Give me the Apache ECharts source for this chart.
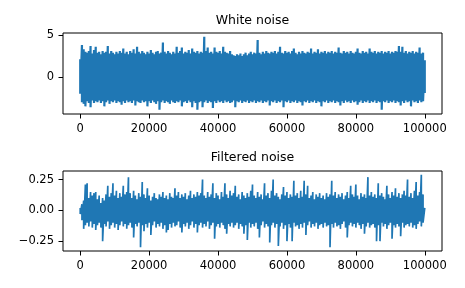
<!DOCTYPE html>
<html>
<head>
<meta charset="utf-8">
<script src="https://cdn.jsdelivr.net/npm/echarts@6/dist/echarts.min.js"></script>
<style>html,body{margin:0;padding:0;background:#fff}#c{width:465px;height:288px}</style>
</head>
<body>
<div id="c"></div>
<script>
// Sample spacing along x (samples 0..100000, read every 500)
const sampleStep = 500;
// White noise: upper / lower envelope
const whiteHi = [
2.1,3.8,3.3,3.0,2.9,3.1,3.7,2.8,3.2,3.6,
2.9,3.0,2.7,3.1,2.9,3.0,3.7,2.8,3.1,2.9,
2.7,3.0,2.8,3.1,2.9,3.4,2.8,3.0,2.7,3.1,
2.9,3.3,2.8,3.6,3.0,2.8,3.1,2.9,2.7,3.0,
2.8,3.2,2.9,2.7,3.0,3.1,2.8,2.9,4.1,3.0,
2.8,3.1,2.9,2.7,3.0,2.8,3.6,2.9,3.1,3.5,
2.8,3.0,2.9,3.2,2.8,3.4,3.0,2.9,3.1,2.8,
3.0,2.9,4.8,3.1,3.5,2.9,3.0,2.8,3.5,3.0,
2.9,3.1,2.8,3.6,3.0,2.9,2.8,3.1,2.7,2.6,
2.5,2.7,2.6,2.8,2.5,2.7,2.9,2.6,2.8,3.0,
2.7,2.9,2.8,4.4,2.9,2.7,3.0,2.8,3.1,2.9,
2.8,3.0,2.9,3.1,2.8,3.0,3.6,2.9,2.8,3.1,
2.9,3.0,2.8,3.1,3.4,2.9,2.7,3.0,2.8,3.1,
2.9,2.8,3.0,2.9,3.4,2.8,3.0,2.9,3.3,2.8,
3.0,2.9,3.1,2.8,3.0,2.9,3.1,2.8,3.0,2.9,
3.5,2.9,2.8,3.1,2.9,3.0,2.8,3.1,2.9,2.8,
3.0,3.4,2.9,2.8,3.1,2.9,3.0,2.8,3.4,3.0,
2.9,3.1,2.8,3.0,2.9,3.1,2.8,3.0,2.9,3.1,
2.8,3.0,2.9,3.1,3.0,3.7,3.0,3.6,2.9,3.1,
2.8,3.0,2.9,3.1,2.8,3.0,2.9,3.5,2.8,2.9,
2.0];
const whiteLo = [
-2.0,-3.0,-3.2,-3.5,-2.9,-3.1,-3.6,-2.8,-3.1,-2.9,
-3.0,-2.8,-3.1,-2.9,-3.5,-3.0,-2.8,-3.2,-2.9,-3.0,
-2.8,-3.1,-2.9,-3.0,-3.3,-2.9,-3.1,-2.8,-3.0,-2.9,
-3.1,-2.8,-3.4,-2.9,-3.0,-3.1,-2.8,-3.0,-2.9,-3.5,
-2.9,-3.1,-2.8,-3.0,-3.2,-2.9,-3.9,-3.0,-2.8,-3.1,
-2.9,-3.0,-3.2,-2.8,-3.0,-3.1,-2.9,-3.0,-2.8,-3.5,
-3.0,-2.9,-3.1,-2.8,-3.0,-3.6,-2.9,-3.1,-3.9,-3.0,
-2.9,-3.6,-3.0,-2.8,-3.1,-2.9,-3.0,-3.7,-2.9,-3.1,
-2.8,-3.0,-2.9,-3.1,-2.8,-3.0,-2.9,-3.1,-3.0,-2.8,
-3.6,-2.9,-3.0,-2.8,-3.1,-2.9,-3.0,-2.8,-3.1,-2.9,
-3.0,-2.8,-3.1,-2.9,-3.0,-2.8,-3.1,-2.9,-3.0,-2.8,
-3.4,-2.9,-3.0,-2.8,-3.1,-2.9,-3.0,-2.8,-3.6,-2.9,
-3.0,-2.8,-3.1,-2.9,-3.0,-2.8,-3.1,-2.9,-3.0,-3.4,
-2.9,-3.0,-2.8,-3.1,-2.9,-3.0,-2.8,-3.1,-2.9,-3.0,
-3.5,-2.9,-3.0,-2.8,-3.1,-2.9,-3.0,-2.8,-3.1,-2.9,
-3.0,-3.4,-2.9,-3.1,-2.8,-3.0,-2.9,-3.1,-2.8,-3.0,
-2.9,-3.3,-3.0,-2.8,-3.1,-2.9,-3.0,-2.8,-3.1,-2.9,
-3.0,-2.8,-3.1,-2.9,-3.0,-3.9,-2.9,-3.0,-2.8,-3.1,
-2.9,-3.0,-2.8,-3.1,-2.9,-3.0,-3.4,-2.9,-3.1,-2.8,
-3.0,-2.9,-3.5,-2.8,-3.0,-2.9,-3.1,-2.8,-3.0,-2.9,
-1.9];
// Filtered noise: upper / lower swings
const filtHi = [
0.02,0.05,0.08,0.21,0.22,0.10,0.15,0.12,0.14,0.15,
0.09,0.12,0.06,0.10,0.08,0.13,0.20,0.11,0.14,0.22,
0.12,0.16,0.10,0.14,0.11,0.20,0.13,0.15,0.27,0.14,
0.10,0.16,0.12,0.09,0.14,0.11,0.23,0.13,0.10,0.18,
0.12,0.08,0.11,0.14,0.10,0.09,0.13,0.11,0.15,0.10,
0.12,0.09,0.14,0.11,0.10,0.18,0.12,0.15,0.10,0.13,
0.11,0.14,0.09,0.12,0.16,0.10,0.13,0.11,0.15,0.12,
0.14,0.25,0.12,0.10,0.15,0.11,0.13,0.22,0.10,0.14,
0.12,0.09,0.15,0.11,0.22,0.13,0.10,0.16,0.12,0.14,
0.20,0.11,0.13,0.09,0.15,0.12,0.10,0.14,0.11,0.16,
0.21,0.12,0.10,0.15,0.11,0.13,0.09,0.22,0.12,0.14,
0.10,0.16,0.25,0.12,0.14,0.11,0.09,0.13,0.19,0.12,
0.15,0.10,0.13,0.11,0.24,0.12,0.14,0.10,0.16,0.11,
0.24,0.13,0.20,0.10,0.12,0.15,0.09,0.13,0.11,0.14,
0.10,0.12,0.09,0.14,0.11,0.13,0.24,0.12,0.15,0.10,
0.13,0.11,0.14,0.09,0.12,0.15,0.10,0.20,0.13,0.11,
0.21,0.12,0.09,0.14,0.11,0.13,0.10,0.27,0.12,0.15,
0.11,0.13,0.10,0.22,0.12,0.14,0.11,0.09,0.20,0.13,
0.10,0.15,0.12,0.18,0.11,0.14,0.10,0.13,0.16,0.12,
0.25,0.11,0.14,0.10,0.16,0.23,0.12,0.15,0.29,0.13,
0.02];
const filtLo = [
-0.03,-0.08,-0.15,-0.12,-0.10,-0.13,-0.09,-0.14,-0.11,-0.16,
-0.12,-0.10,-0.14,-0.25,-0.11,-0.13,-0.09,-0.15,-0.12,-0.10,
-0.14,-0.11,-0.16,-0.12,-0.09,-0.13,-0.11,-0.15,-0.12,-0.10,
-0.14,-0.22,-0.11,-0.13,-0.10,-0.30,-0.12,-0.17,-0.11,-0.14,
-0.10,-0.20,-0.12,-0.09,-0.14,-0.11,-0.13,-0.10,-0.15,-0.12,
-0.18,-0.16,-0.11,-0.14,-0.10,-0.13,-0.12,-0.09,-0.14,-0.18,
-0.11,-0.13,-0.10,-0.15,-0.12,-0.09,-0.14,-0.11,-0.18,-0.12,
-0.10,-0.14,-0.11,-0.13,-0.09,-0.15,-0.12,-0.10,-0.23,-0.13,
-0.11,-0.14,-0.10,-0.12,-0.15,-0.19,-0.11,-0.13,-0.10,-0.14,
-0.12,-0.10,-0.15,-0.11,-0.13,-0.19,-0.12,-0.24,-0.10,-0.14,
-0.11,-0.13,-0.10,-0.15,-0.22,-0.12,-0.09,-0.14,-0.11,-0.13,
-0.26,-0.12,-0.10,-0.14,-0.11,-0.29,-0.13,-0.10,-0.15,-0.12,
-0.25,-0.11,-0.14,-0.25,-0.10,-0.13,-0.12,-0.15,-0.11,-0.14,
-0.10,-0.20,-0.12,-0.09,-0.14,-0.11,-0.13,-0.10,-0.15,-0.12,
-0.11,-0.14,-0.10,-0.13,-0.12,-0.30,-0.11,-0.14,-0.10,-0.13,
-0.12,-0.15,-0.11,-0.09,-0.14,-0.22,-0.12,-0.10,-0.13,-0.11,
-0.14,-0.10,-0.12,-0.15,-0.11,-0.19,-0.13,-0.10,-0.14,-0.12,
-0.11,-0.14,-0.25,-0.12,-0.25,-0.10,-0.13,-0.11,-0.15,-0.12,
-0.10,-0.23,-0.12,-0.14,-0.11,-0.13,-0.21,-0.10,-0.14,-0.12,
-0.11,-0.13,-0.10,-0.14,-0.12,-0.15,-0.11,-0.09,-0.13,-0.10,
0.02];
// Tick labels
const xTicks = [0, 20000, 40000, 60000, 80000, 100000];
const yTicksWhite = [0, 5];
const yTicksFilt = [-0.25, 0, 0.25];
const titles = ['White noise', 'Filtered noise'];

function zigzag(hi, lo) {
  const out = [];
  for (let i = 0; i < hi.length; i++) {
    const x = i * sampleStep;
    out.push([x, hi[i]]);
    out.push([x, lo[i]]);
  }
  return out;
}

const FONT = 'DejaVu Sans';
const fmtMinus = s => s.replace('-', '\u2212');
function xAxisCfg(gi) {
  return {
    type: 'value', gridIndex: gi, min: -5000, max: 105000,
    axisLine: { show: false, onZero: false },
    axisTick: { show: true, customValues: xTicks, length: 4.5, lineStyle: { color: '#000', width: 1 } },
    axisLabel: { customValues: xTicks, formatter: v => String(v), margin: 9, fontSize: 11.5, color: '#000', fontFamily: FONT },
    splitLine: { show: false }
  };
}
function yAxisCfg(gi, min, max, ticks, fmt) {
  return {
    type: 'value', gridIndex: gi, min: min, max: max,
    axisLine: { show: false, onZero: false },
    axisTick: { show: true, customValues: ticks, length: 4.5, lineStyle: { color: '#000', width: 1 } },
    axisLabel: { customValues: ticks, formatter: fmt, margin: 9, fontSize: 11.5, color: '#000', fontFamily: FONT },
    splitLine: { show: false }
  };
}

const chart = echarts.init(document.getElementById('c'), null, { renderer: 'canvas' });
chart.setOption({
  animation: false,
  backgroundColor: '#fff',
  title: [
    { text: titles[0], left: 252.5, top: 14, textAlign: 'center', padding: 0,
      textStyle: { fontSize: 12.5, fontWeight: 'normal', color: '#000', fontFamily: FONT } },
    { text: titles[1], left: 252.5, top: 151, textAlign: 'center', padding: 0,
      textStyle: { fontSize: 12.5, fontWeight: 'normal', color: '#000', fontFamily: FONT } }
  ],
  grid: [
    { left: 63, right: 23, top: 33, height: 81, show: true, borderColor: '#000', borderWidth: 1, backgroundColor: 'transparent' },
    { left: 63, right: 23, top: 171, height: 80, show: true, borderColor: '#000', borderWidth: 1, backgroundColor: 'transparent' }
  ],
  xAxis: [xAxisCfg(0), xAxisCfg(1)],
  yAxis: [
    yAxisCfg(0, -4.41, 5.24, yTicksWhite, v => fmtMinus(String(v))),
    yAxisCfg(1, -0.33, 0.32, yTicksFilt, v => fmtMinus(v.toFixed(2)))
  ],
  series: [
    { type: 'line', xAxisIndex: 0, yAxisIndex: 0, data: zigzag(whiteHi, whiteLo), symbol: 'none',
      lineStyle: { color: '#1f77b4', width: 2.2 }, silent: true },
    { type: 'line', xAxisIndex: 1, yAxisIndex: 1, data: zigzag(filtHi, filtLo), symbol: 'none',
      lineStyle: { color: '#1f77b4', width: 1.7 }, silent: true }
  ]
});
</script>
</body>
</html>
